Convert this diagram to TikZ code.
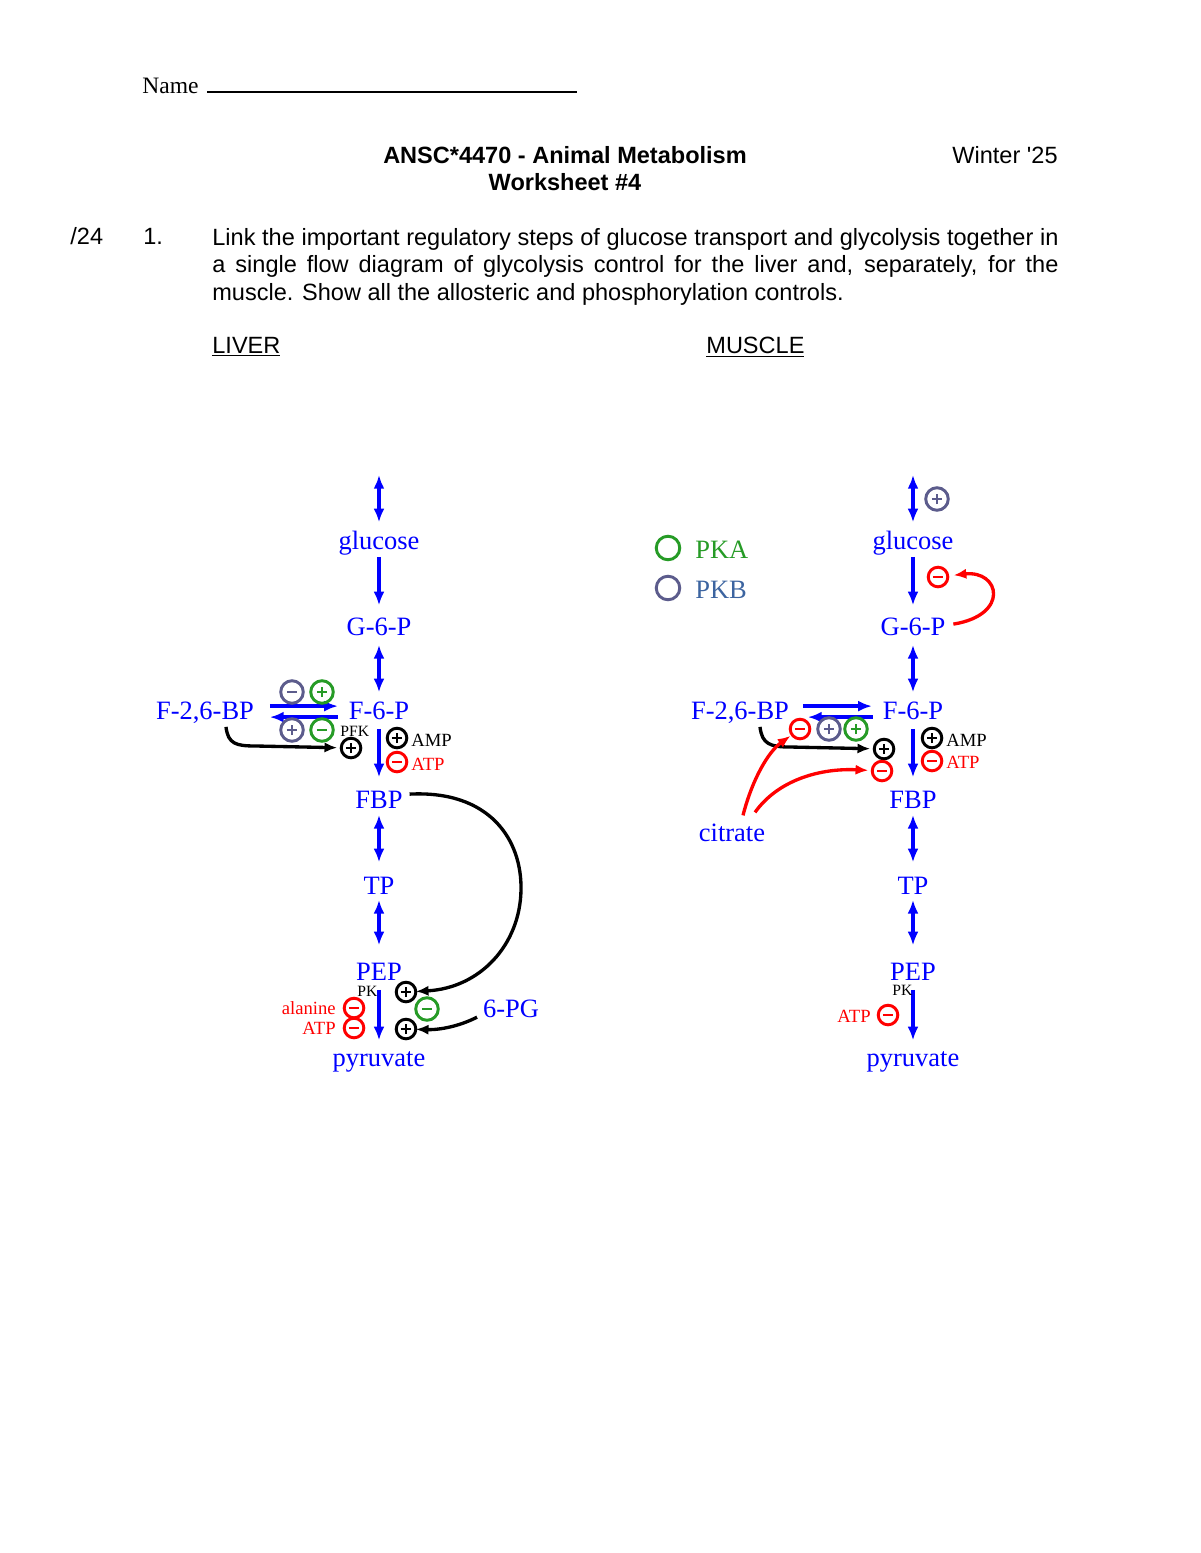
\documentclass[tikz,border=0pt]{standalone}
\usepackage{fontspec}
\setmainfont{Liberation Serif}
\newfontfamily\arialf{Liberation Sans}
\usetikzlibrary{arrows.meta,calc}
\definecolor{mblue}{RGB}{0,0,255}
\definecolor{mgreen}{RGB}{38,155,38}
\definecolor{mpurple}{RGB}{92,92,140}
\definecolor{mred}{RGB}{255,0,0}
\definecolor{pkbtext}{RGB}{60,100,160}
\begin{document}
\begin{tikzpicture}[x=0.51pt,y=-0.51pt,
 met/.style={text=mblue, font=\fontsize{13.5}{16}\selectfont, inner sep=0pt, outer sep=0pt, text height=9pt, text depth=3pt, anchor=base},
 flow/.style={mblue, line width=1.8pt, -{Latex[length=7pt,width=5.6pt]}},
 dflow/.style={mblue, line width=1.8pt, {Latex[length=7pt,width=5.6pt]}-{Latex[length=7pt,width=5.6pt]}},
 actarrow/.style={black, line width=1.7pt, -{Latex[length=6.5pt,width=5.2pt]}},
 inharrow/.style={mred, line width=1.7pt, -{Latex[length=6.5pt,width=5.2pt]}},
 sgn/.style={circle, draw=#1, line width=1.5pt, minimum size=10pt, inner sep=0pt, outer sep=0pt},
 plussgn/.style={sgn=#1, path picture={\draw[#1, line width=1.4pt] ($(path picture bounding box.center)+(-2.6pt,0pt)$) -- ($(path picture bounding box.center)+(2.6pt,0pt)$) ($(path picture bounding box.center)+(0pt,-2.6pt)$) -- ($(path picture bounding box.center)+(0pt,2.6pt)$);}},
 minussgn/.style={sgn=#1, path picture={\draw[#1, line width=1.4pt] ($(path picture bounding box.center)+(-2.6pt,0pt)$) -- ($(path picture bounding box.center)+(2.6pt,0pt)$);}},
 bigsgn/.style={minimum size=11.5pt},
 tinylab/.style={font=\fontsize{8}{9}\selectfont, inner sep=0pt},
 efflab/.style={font=\fontsize{9.5}{11}\selectfont, inner sep=0pt},
 hdr/.style={font=\arialf\fontsize{12}{14}\selectfont, inner sep=0pt},
 hdrb/.style={font=\arialf\bfseries\fontsize{12}{14}\selectfont, inner sep=0pt},
]
\path[use as bounding box] (0,0) rectangle (1200,1553);

% ---------- header ----------
\node[anchor=base west, font=\fontsize{12}{14}\selectfont, inner sep=0pt] (name) at (142,94) {Name};
\coordinate (nameA) at (207,92);
\coordinate (nameB) at (577,92);
\draw[line width=1.1pt] (nameA) -- (nameB);
\node[hdrb, anchor=base] (title) at (565,164) {ANSC*4470 - Animal Metabolism};
\node[hdrb, anchor=base] (ws) at (565,191) {Worksheet \#4};
\node[hdr, anchor=base east] (term) at (1058,164) {Winter '25};
\node[hdr, anchor=base west] (marks) at (70,245) {/24};
\node[hdr, anchor=base west] (qnum) at (143,245) {1.};
\node[hdr, anchor=north west, text width=431.5pt, align=justify] (qtext) at (212,228)
 {Link the important regulatory steps of glucose transport and glycolysis together in\linebreak
  a single flow diagram of glycolysis control for the liver and, separately, for the\linebreak
  muscle. Show all the allosteric and phosphorylation controls.};
\node[hdr, anchor=base west] (liver) at (212,353) {\underline{LIVER}};
\node[hdr, anchor=base west] (muscle) at (706,353) {\underline{MUSCLE}};

% ---------- LIVER ----------
\node[met] (glcL) at (379,549) {glucose};
\node[met] (g6pL) at (379,635) {G-6-P};
\node[met] (f6pL) at (379,719) {F-6-P};
\node[met] (f26L) at (205,719) {F-2,6-BP};
\node[met] (fbpL) at (379,808) {FBP};
\node[met] (tpL) at (379,894) {TP};
\node[met] (pepL) at (379,980) {PEP};
\node[met] (pyrL) at (379,1066) {pyruvate};
\node[met] (pgL) at (511,1017) {6-PG};

\coordinate (glcInL) at (379,475);
\draw[dflow] (glcInL) -- ($(glcL.north)+(0,-9)$);
\draw[flow] ($(glcL.south)+(0,2)$) -- ($(g6pL.north)+(0,-12)$);
\draw[dflow] ($(g6pL.south)+(0,4)$) -- ($(f6pL.north)+(0,-9)$);
\draw[flow] ($(f6pL.south)+(0,4)$) -- ($(fbpL.north)+(0,-13)$);
\draw[dflow] ($(fbpL.south)+(0,1)$) -- ($(tpL.north)+(0,-14)$);
\draw[dflow] ($(tpL.south)+(0,0)$) -- ($(pepL.north)+(0,-17)$);
\draw[flow] ($(pepL.south)+(0,4)$) -- ($(pyrL.north)+(0,-8)$);

\draw[flow] ($(f26L.east)+(16,-7)$) -- ($(f6pL.west)+(-11,-7)$);
\draw[flow] ($(f6pL.west)+(-11,4)$) -- ($(f26L.east)+(16,4)$);

\node[minussgn=mpurple, bigsgn] (L1) at (292,692) {};
\node[plussgn=mgreen, bigsgn] (L2) at (322,692) {};
\node[plussgn=mpurple, bigsgn] (L3) at (292,730) {};
\node[minussgn=mgreen, bigsgn] (L4) at (322,730) {};
\node[tinylab, anchor=base west] (pfkL) at (340,736) {PFK};
\node[plussgn=black] (actL) at (351,748) {};
\draw[actarrow, shorten >=2pt] ($(f26L.south)+(21,2)$) .. controls (228,744) and (236,746) .. (256,746) -- (actL);

\node[plussgn=black] (ampcL) at (397,738) {};
\node[efflab, anchor=base west] (ampL) at (411,746) {AMP};
\node[minussgn=mred] (atpcL) at (397,762) {};
\node[efflab, anchor=base west, text=mred] (atpL) at (411,770) {ATP};

\node[plussgn=black] (pkp1L) at (406,992) {};
\node[plussgn=black] (pkp2L) at (406,1029) {};
\node[minussgn=mgreen, bigsgn] (pkgL) at (427,1009) {};
\node[tinylab, anchor=base west] (pkL) at (357,996) {PK};
\node[minussgn=mred] (alacL) at (354,1008) {};
\node[minussgn=mred] (atpc2L) at (354,1028) {};
\node[efflab, anchor=base east, text=mred] (alaL) at (336,1014) {alanine};
\node[efflab, anchor=base east, text=mred] (atp2L) at (336,1034) {ATP};

\draw[actarrow] ($(fbpL.east)+(7,-8)$) .. controls (490,790) and (522,840) .. (521,890)
  .. controls (520,945) and (480,988) .. (pkp1L);
\draw[actarrow] ($(pgL.west)+(-6,6)$) .. controls (460,1026) and (440,1030) .. (pkp2L);

% ---------- legend ----------
\node[sgn=mgreen, minimum size=12pt] (pkaC) at (668,548) {};
\node[anchor=base west, text=mgreen, font=\fontsize{13.5}{16}\selectfont, inner sep=0pt] (pka) at (695,558) {PKA};
\node[sgn=mpurple, minimum size=12pt] (pkbC) at (668,588) {};
\node[anchor=base west, text=pkbtext, font=\fontsize{13.5}{16}\selectfont, inner sep=0pt] (pkb) at (695,598) {PKB};

% ---------- MUSCLE ----------
\node[met] (glcM) at (913,549) {glucose};
\node[met] (g6pM) at (913,635) {G-6-P};
\node[met] (f6pM) at (913,719) {F-6-P};
\node[met] (f26M) at (740,719) {F-2,6-BP};
\node[met] (fbpM) at (913,808) {FBP};
\node[met] (tpM) at (913,894) {TP};
\node[met] (pepM) at (913,980) {PEP};
\node[met] (pyrM) at (913,1066) {pyruvate};
\node[met] (citM) at (732,841) {citrate};

\coordinate (glcInM) at (913,475);
\draw[dflow] (glcInM) -- ($(glcM.north)+(0,-9)$);
\draw[flow] ($(glcM.south)+(0,2)$) -- ($(g6pM.north)+(0,-12)$);
\draw[dflow] ($(g6pM.south)+(0,4)$) -- ($(f6pM.north)+(0,-9)$);
\draw[flow] ($(f6pM.south)+(0,4)$) -- ($(fbpM.north)+(0,-13)$);
\draw[dflow] ($(fbpM.south)+(0,1)$) -- ($(tpM.north)+(0,-14)$);
\draw[dflow] ($(tpM.south)+(0,0)$) -- ($(pepM.north)+(0,-17)$);
\draw[flow] ($(pepM.south)+(0,4)$) -- ($(pyrM.north)+(0,-8)$);

\draw[flow] ($(f26M.east)+(14,-7)$) -- ($(f6pM.west)+(-11,-7)$);
\draw[flow] ($(f6pM.west)+(-10,4)$) -- ($(f26M.east)+(19,4)$);

\node[plussgn=mpurple, bigsgn] (glutM) at (937,499) {};
\node[minussgn=mred] (hkM) at (938,577) {};
\draw[inharrow, shorten >=3pt] ($(g6pM.east)+(8,-5)$) .. controls (1010,615) and (1000,570) .. (hkM);

\node[minussgn=mred] (mc1) at (800,729) {};
\node[plussgn=mpurple, bigsgn] (mc2) at (829,729) {};
\node[plussgn=mgreen, bigsgn] (mc3) at (856,729) {};
\node[plussgn=black] (actM) at (884,749) {};
\node[minussgn=mred] (inhM) at (882,771) {};
\draw[actarrow, shorten >=2pt] ($(f26M.south)+(20,2)$) .. controls (762,744) and (770,747) .. (790,747) -- (actM);
\draw[inharrow, shorten >=1pt] ($(citM.north)+(11,-8)$) .. controls (752,780) and (768,752) .. (mc1);
\draw[inharrow, shorten >=2pt] ($(citM.north)+(23,-11)$) .. controls (778,780) and (820,768) .. (inhM);

\node[plussgn=black] (ampcM) at (932,738) {};
\node[efflab, anchor=base west] (ampM) at (946,746) {AMP};
\node[minussgn=mred] (atpcM) at (932,761) {};
\node[efflab, anchor=base west, text=mred] (atpM) at (946,768) {ATP};

\node[tinylab, anchor=base west] (pkM) at (892,995) {PK};
\node[minussgn=mred] (atpc2M) at (888,1015) {};
\node[efflab, anchor=base east, text=mred] (atp2M) at (871,1022) {ATP};
\end{tikzpicture}
\end{document}
